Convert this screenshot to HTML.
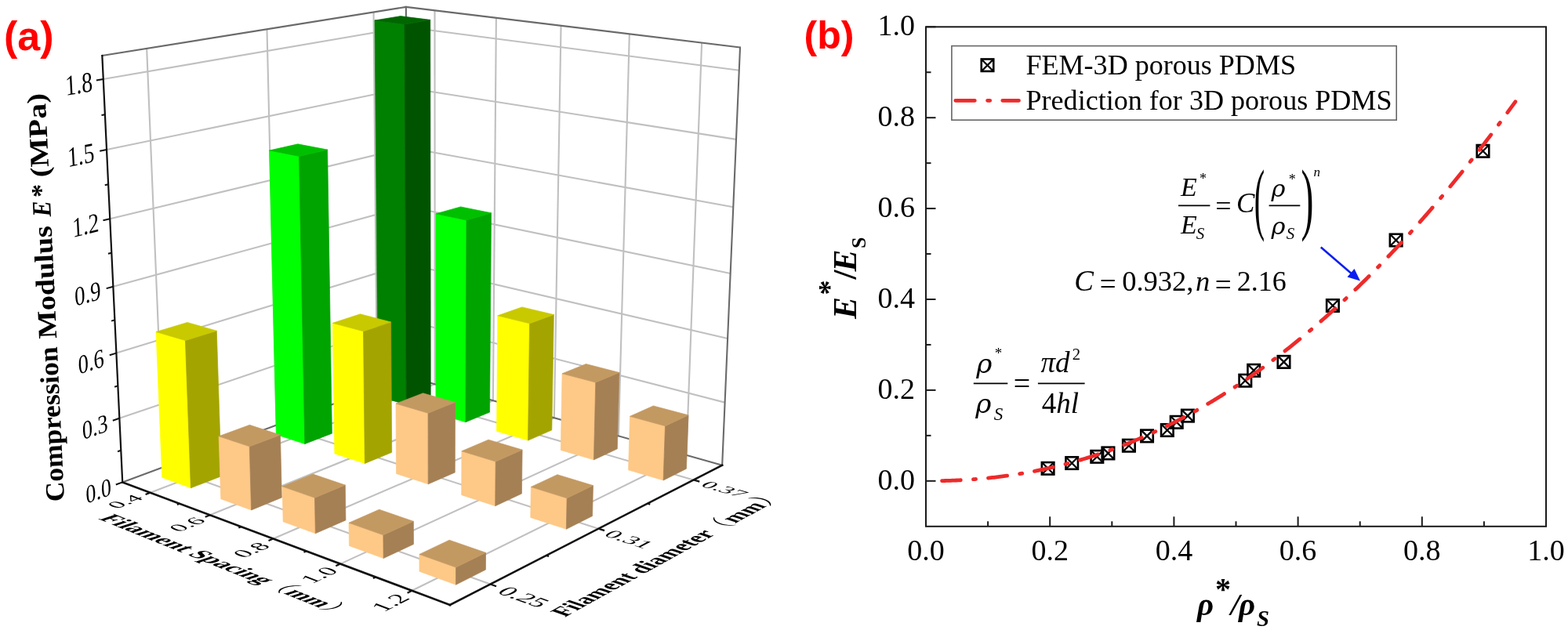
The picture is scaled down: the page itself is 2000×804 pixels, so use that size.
<!DOCTYPE html>
<html><head><meta charset="utf-8"><title>Figure</title>
<style>html,body{margin:0;padding:0;background:#fff;}svg{display:block;}</style>
</head><body>
<svg width="2000" height="804" viewBox="0 0 2000 804">
<rect width="2000" height="804" fill="#fff"/>
<line x1="209.15" y1="595.78" x2="187.15" y2="61.85" stroke="#c0c0c0" stroke-width="2.1"/>
<line x1="352.66" y1="542.53" x2="340.47" y2="37.28" stroke="#c0c0c0" stroke-width="2.1"/>
<line x1="480.87" y1="494.96" x2="476.54" y2="15.48" stroke="#c0c0c0" stroke-width="2.1"/>
<line x1="152.35" y1="533.81" x2="519.63" y2="409.23" stroke="#c0c0c0" stroke-width="2.1"/>
<line x1="148.39" y1="450.61" x2="519.31" y2="336.81" stroke="#c0c0c0" stroke-width="2.1"/>
<line x1="144.36" y1="365.76" x2="518.98" y2="263.16" stroke="#c0c0c0" stroke-width="2.1"/>
<line x1="140.24" y1="279.24" x2="518.65" y2="188.27" stroke="#c0c0c0" stroke-width="2.1"/>
<line x1="136.04" y1="190.97" x2="518.31" y2="112.08" stroke="#c0c0c0" stroke-width="2.1"/>
<line x1="131.76" y1="100.91" x2="517.97" y2="34.58" stroke="#c0c0c0" stroke-width="2.1"/>
<line x1="554.69" y1="490.26" x2="554.49" y2="13.29" stroke="#c0c0c0" stroke-width="2.1"/>
<line x1="628.86" y1="511.18" x2="632.89" y2="22.79" stroke="#c0c0c0" stroke-width="2.1"/>
<line x1="706.84" y1="533.18" x2="715.55" y2="32.80" stroke="#c0c0c0" stroke-width="2.1"/>
<line x1="788.92" y1="556.33" x2="802.83" y2="43.36" stroke="#c0c0c0" stroke-width="2.1"/>
<line x1="875.46" y1="580.74" x2="895.13" y2="54.54" stroke="#c0c0c0" stroke-width="2.1"/>
<line x1="519.63" y1="409.23" x2="924.59" y2="513.62" stroke="#c0c0c0" stroke-width="2.1"/>
<line x1="519.31" y1="336.81" x2="928.09" y2="432.08" stroke="#c0c0c0" stroke-width="2.1"/>
<line x1="518.98" y1="263.16" x2="931.65" y2="348.97" stroke="#c0c0c0" stroke-width="2.1"/>
<line x1="518.65" y1="188.27" x2="935.28" y2="264.25" stroke="#c0c0c0" stroke-width="2.1"/>
<line x1="518.31" y1="112.08" x2="938.98" y2="177.86" stroke="#c0c0c0" stroke-width="2.1"/>
<line x1="517.97" y1="34.58" x2="942.75" y2="89.76" stroke="#c0c0c0" stroke-width="2.1"/>
<line x1="191.66" y1="628.70" x2="554.69" y2="490.26" stroke="#c0c0c0" stroke-width="2.1"/>
<line x1="267.78" y1="657.22" x2="628.86" y2="511.18" stroke="#c0c0c0" stroke-width="2.1"/>
<line x1="348.48" y1="687.46" x2="706.84" y2="533.18" stroke="#c0c0c0" stroke-width="2.1"/>
<line x1="434.21" y1="719.59" x2="788.92" y2="556.33" stroke="#c0c0c0" stroke-width="2.1"/>
<line x1="525.44" y1="753.77" x2="875.46" y2="580.74" stroke="#c0c0c0" stroke-width="2.1"/>
<line x1="209.15" y1="595.78" x2="625.48" y2="745.52" stroke="#c0c0c0" stroke-width="2.1"/>
<line x1="352.66" y1="542.53" x2="763.42" y2="674.67" stroke="#c0c0c0" stroke-width="2.1"/>
<line x1="480.87" y1="494.96" x2="884.60" y2="612.42" stroke="#c0c0c0" stroke-width="2.1"/>
<line x1="130.33" y1="70.96" x2="517.85" y2="8.86" stroke="#6a6a6a" stroke-width="2.1" stroke-linecap="round"/>
<line x1="517.85" y1="8.86" x2="944.01" y2="60.46" stroke="#6a6a6a" stroke-width="2.1" stroke-linecap="round"/>
<line x1="519.95" y1="480.46" x2="517.85" y2="8.86" stroke="#6a6a6a" stroke-width="2.1" stroke-linecap="round"/>
<line x1="921.17" y1="593.64" x2="944.01" y2="60.46" stroke="#6a6a6a" stroke-width="2.1" stroke-linecap="round"/>
<line x1="156.23" y1="615.42" x2="519.95" y2="480.46" stroke="#6a6a6a" stroke-width="2.1" stroke-linecap="round"/>
<line x1="519.95" y1="480.46" x2="921.17" y2="593.64" stroke="#6a6a6a" stroke-width="2.1" stroke-linecap="round"/>
<polygon points="482.21,505.77 518.31,516.40 516.04,30.92 477.96,26.01" fill="#008000" stroke="#008000" stroke-width="0.7" stroke-linejoin="round"/>
<polygon points="518.31,516.40 549.23,504.44 548.73,25.36 516.04,30.92" fill="#005400" stroke="#005400" stroke-width="0.7" stroke-linejoin="round"/>
<polygon points="477.96,26.01 516.04,30.92 548.73,25.36 510.77,20.60" fill="#006600" stroke="#006600" stroke-width="0.7" stroke-linejoin="round"/>
<polygon points="555.94,527.49 593.91,538.67 594.99,281.02 555.87,272.86" fill="#00ff00" stroke="#00ff00" stroke-width="0.7" stroke-linejoin="round"/>
<polygon points="593.91,538.67 624.55,526.09 626.52,271.82 594.99,281.02" fill="#00a400" stroke="#00a400" stroke-width="0.7" stroke-linejoin="round"/>
<polygon points="555.87,272.86 594.99,281.02 626.52,271.82 587.56,263.89" fill="#00bf00" stroke="#00bf00" stroke-width="0.7" stroke-linejoin="round"/>
<polygon points="633.52,550.34 673.52,562.12 675.54,412.87 634.82,402.86" fill="#ffff00" stroke="#ffff00" stroke-width="0.7" stroke-linejoin="round"/>
<polygon points="673.52,562.12 703.80,548.87 706.32,401.60 675.54,412.87" fill="#a4a400" stroke="#a4a400" stroke-width="0.7" stroke-linejoin="round"/>
<polygon points="634.82,402.86 675.54,412.87 706.32,401.60 665.79,391.88" fill="#c9c900" stroke="#c9c900" stroke-width="0.7" stroke-linejoin="round"/>
<polygon points="352.34,554.61 388.80,566.50 381.49,199.41 343.57,192.00" fill="#00ff00" stroke="#00ff00" stroke-width="0.7" stroke-linejoin="round"/>
<polygon points="388.80,566.50 423.38,553.13 417.64,191.05 381.49,199.41" fill="#00a400" stroke="#00a400" stroke-width="0.7" stroke-linejoin="round"/>
<polygon points="343.57,192.00 381.49,199.41 417.64,191.05 379.81,183.86" fill="#00bf00" stroke="#00bf00" stroke-width="0.7" stroke-linejoin="round"/>
<polygon points="715.27,574.42 757.46,586.84 759.78,488.05 717.07,476.81" fill="#fec886" stroke="#fec886" stroke-width="0.7" stroke-linejoin="round"/>
<polygon points="757.46,586.84 787.31,572.87 789.93,475.41 759.78,488.05" fill="#a58054" stroke="#a58054" stroke-width="0.7" stroke-linejoin="round"/>
<polygon points="717.07,476.81 759.78,488.05 789.93,475.41 747.46,464.51" fill="#c39962" stroke="#c39962" stroke-width="0.7" stroke-linejoin="round"/>
<polygon points="426.87,578.91 465.35,591.46 463.50,422.81 424.30,412.32" fill="#ffff00" stroke="#ffff00" stroke-width="0.7" stroke-linejoin="round"/>
<polygon points="465.35,591.46 499.70,577.35 498.56,411.00 463.50,422.81" fill="#a4a400" stroke="#a4a400" stroke-width="0.7" stroke-linejoin="round"/>
<polygon points="424.30,412.32 463.50,422.81 498.56,411.00 459.47,400.83" fill="#c9c900" stroke="#c9c900" stroke-width="0.7" stroke-linejoin="round"/>
<polygon points="801.54,599.82 846.11,612.95 848.47,543.64 803.51,531.37" fill="#fec886" stroke="#fec886" stroke-width="0.7" stroke-linejoin="round"/>
<polygon points="846.11,612.95 875.42,598.19 877.98,529.84 848.47,543.64" fill="#a58054" stroke="#a58054" stroke-width="0.7" stroke-linejoin="round"/>
<polygon points="803.51,531.37 848.47,543.64 877.98,529.84 833.30,517.93" fill="#c39962" stroke="#c39962" stroke-width="0.7" stroke-linejoin="round"/>
<polygon points="505.55,604.57 546.20,617.82 546.07,527.22 504.99,515.09" fill="#fec886" stroke="#fec886" stroke-width="0.7" stroke-linejoin="round"/>
<polygon points="546.20,617.82 580.26,602.92 580.50,513.57 546.07,527.22" fill="#a58054" stroke="#a58054" stroke-width="0.7" stroke-linejoin="round"/>
<polygon points="504.99,515.09 546.07,527.22 580.50,513.57 539.57,501.81" fill="#c39962" stroke="#c39962" stroke-width="0.7" stroke-linejoin="round"/>
<polygon points="206.75,609.35 243.41,622.74 236.40,434.56 199.03,423.54" fill="#ffff00" stroke="#ffff00" stroke-width="0.7" stroke-linejoin="round"/>
<polygon points="243.41,622.74 282.32,607.69 276.27,422.16 236.40,434.56" fill="#a4a400" stroke="#a4a400" stroke-width="0.7" stroke-linejoin="round"/>
<polygon points="199.03,423.54 236.40,434.56 276.27,422.16 238.93,411.48" fill="#c9c900" stroke="#c9c900" stroke-width="0.7" stroke-linejoin="round"/>
<polygon points="588.71,631.68 631.73,645.71 632.23,589.04 588.91,575.72" fill="#fec886" stroke="#fec886" stroke-width="0.7" stroke-linejoin="round"/>
<polygon points="631.73,645.71 665.41,629.94 666.12,574.06 632.23,589.04" fill="#a58054" stroke="#a58054" stroke-width="0.7" stroke-linejoin="round"/>
<polygon points="588.91,575.72 632.23,589.04 666.12,574.06 623.01,561.17" fill="#c39962" stroke="#c39962" stroke-width="0.7" stroke-linejoin="round"/>
<polygon points="281.75,636.74 320.56,650.91 318.27,569.87 279.12,556.73" fill="#fec886" stroke="#fec886" stroke-width="0.7" stroke-linejoin="round"/>
<polygon points="320.56,650.91 359.35,634.98 357.47,555.09 318.27,569.87" fill="#a58054" stroke="#a58054" stroke-width="0.7" stroke-linejoin="round"/>
<polygon points="279.12,556.73 318.27,569.87 357.47,555.09 318.39,542.37" fill="#c39962" stroke="#c39962" stroke-width="0.7" stroke-linejoin="round"/>
<polygon points="676.76,660.40 722.37,675.27 723.14,635.75 677.31,621.39" fill="#fec886" stroke="#fec886" stroke-width="0.7" stroke-linejoin="round"/>
<polygon points="722.37,675.27 755.56,658.55 756.47,619.61 723.14,635.75" fill="#a58054" stroke="#a58054" stroke-width="0.7" stroke-linejoin="round"/>
<polygon points="677.31,621.39 723.14,635.75 756.47,619.61 710.90,605.71" fill="#c39962" stroke="#c39962" stroke-width="0.7" stroke-linejoin="round"/>
<polygon points="361.17,665.75 402.33,680.77 401.48,635.26 360.12,620.82" fill="#fec886" stroke="#fec886" stroke-width="0.7" stroke-linejoin="round"/>
<polygon points="402.33,680.77 440.93,663.88 440.30,619.03 401.48,635.26" fill="#a58054" stroke="#a58054" stroke-width="0.7" stroke-linejoin="round"/>
<polygon points="360.12,620.82 401.48,635.26 440.30,619.03 399.05,605.06" fill="#c39962" stroke="#c39962" stroke-width="0.7" stroke-linejoin="round"/>
<polygon points="445.43,696.52 489.15,712.48 488.90,682.80 445.04,667.23" fill="#fec886" stroke="#fec886" stroke-width="0.7" stroke-linejoin="round"/>
<polygon points="489.15,712.48 527.45,694.54 527.35,665.30 488.90,682.80" fill="#a58054" stroke="#a58054" stroke-width="0.7" stroke-linejoin="round"/>
<polygon points="445.04,667.23 488.90,682.80 527.35,665.30 483.64,650.25" fill="#c39962" stroke="#c39962" stroke-width="0.7" stroke-linejoin="round"/>
<polygon points="534.98,729.22 581.51,746.21 581.57,724.09 534.92,707.40" fill="#fec886" stroke="#fec886" stroke-width="0.7" stroke-linejoin="round"/>
<polygon points="581.51,746.21 619.40,727.12 619.56,705.34 581.57,724.09" fill="#a58054" stroke="#a58054" stroke-width="0.7" stroke-linejoin="round"/>
<polygon points="534.92,707.40 581.57,724.09 619.56,705.34 573.14,689.22" fill="#c39962" stroke="#c39962" stroke-width="0.7" stroke-linejoin="round"/>
<line x1="156.23" y1="615.42" x2="130.33" y2="70.96" stroke="#111" stroke-width="2.2" stroke-linecap="square"/>
<line x1="156.23" y1="615.42" x2="573.99" y2="771.97" stroke="#111" stroke-width="2.6" stroke-linecap="square"/>
<line x1="573.99" y1="771.97" x2="921.17" y2="593.64" stroke="#111" stroke-width="2.6" stroke-linecap="square"/>
<line x1="156.23" y1="615.42" x2="147.79" y2="618.55" stroke="#111" stroke-width="2"/>
<line x1="154.30" y1="574.81" x2="150.06" y2="576.31" stroke="#111" stroke-width="2"/>
<line x1="152.35" y1="533.81" x2="143.83" y2="536.70" stroke="#111" stroke-width="2"/>
<line x1="150.38" y1="492.41" x2="146.10" y2="493.79" stroke="#111" stroke-width="2"/>
<line x1="148.39" y1="450.61" x2="139.79" y2="453.24" stroke="#111" stroke-width="2"/>
<line x1="146.38" y1="408.39" x2="142.06" y2="409.65" stroke="#111" stroke-width="2"/>
<line x1="144.36" y1="365.76" x2="135.68" y2="368.14" stroke="#111" stroke-width="2"/>
<line x1="142.31" y1="322.71" x2="137.95" y2="323.84" stroke="#111" stroke-width="2"/>
<line x1="140.24" y1="279.24" x2="131.49" y2="281.34" stroke="#111" stroke-width="2"/>
<line x1="138.15" y1="235.32" x2="133.76" y2="236.30" stroke="#111" stroke-width="2"/>
<line x1="136.04" y1="190.97" x2="127.23" y2="192.79" stroke="#111" stroke-width="2"/>
<line x1="133.91" y1="146.17" x2="129.49" y2="147.00" stroke="#111" stroke-width="2"/>
<line x1="131.76" y1="100.91" x2="122.89" y2="102.43" stroke="#111" stroke-width="2"/>
<line x1="191.66" y1="628.70" x2="185.59" y2="631.01" stroke="#111" stroke-width="2.2"/>
<line x1="229.17" y1="642.75" x2="225.91" y2="644.03" stroke="#111" stroke-width="2.2"/>
<line x1="267.78" y1="657.22" x2="261.75" y2="659.66" stroke="#111" stroke-width="2.2"/>
<line x1="307.53" y1="672.12" x2="304.30" y2="673.46" stroke="#111" stroke-width="2.2"/>
<line x1="348.48" y1="687.46" x2="342.51" y2="690.03" stroke="#111" stroke-width="2.2"/>
<line x1="390.69" y1="703.28" x2="387.49" y2="704.70" stroke="#111" stroke-width="2.2"/>
<line x1="434.21" y1="719.59" x2="428.30" y2="722.30" stroke="#111" stroke-width="2.2"/>
<line x1="479.10" y1="736.41" x2="475.94" y2="737.92" stroke="#111" stroke-width="2.2"/>
<line x1="525.44" y1="753.77" x2="519.61" y2="756.65" stroke="#111" stroke-width="2.2"/>
<line x1="625.48" y1="745.52" x2="633.01" y2="748.23" stroke="#111" stroke-width="2.2"/>
<line x1="696.75" y1="708.91" x2="700.07" y2="710.03" stroke="#111" stroke-width="2.2"/>
<line x1="763.42" y1="674.67" x2="771.03" y2="677.12" stroke="#111" stroke-width="2.2"/>
<line x1="825.91" y1="642.57" x2="829.26" y2="643.59" stroke="#111" stroke-width="2.2"/>
<line x1="884.60" y1="612.42" x2="892.28" y2="614.65" stroke="#111" stroke-width="2.2"/>
<g font-family="Liberation Serif, Noto Serif CJK SC, serif">
<text transform="matrix(0.64385 -0.23876 0.04153 0.81023 110.07 643.12)" font-size="40" font-weight="normal" font-style="normal" fill="#000">0.0</text>
<text transform="matrix(0.65128 -0.22093 0.04237 0.82610 105.39 561.19)" font-size="40" font-weight="normal" font-style="normal" fill="#000">0.3</text>
<text transform="matrix(0.65909 -0.20238 0.04329 0.84258 100.21 477.65)" font-size="40" font-weight="normal" font-style="normal" fill="#000">0.6</text>
<text transform="matrix(0.66682 -0.18257 0.04416 0.85963 95.63 390.69)" font-size="40" font-weight="normal" font-style="normal" fill="#000">0.9</text>
<text transform="matrix(0.67357 -0.16206 0.04481 0.87625 93.07 303.10)" font-size="40" font-weight="normal" font-style="normal" fill="#000">1.2</text>
<text transform="matrix(0.68247 -0.14082 0.04592 0.89479 86.66 213.32)" font-size="40" font-weight="normal" font-style="normal" fill="#000">1.5</text>
<text transform="matrix(0.68953 -0.11854 0.04660 0.91247 83.99 122.00)" font-size="40" font-weight="normal" font-style="normal" fill="#000">1.8</text>
<text transform="matrix(0.70998 -0.27049 0.53560 0.20559 148.99 649.54)" font-size="40" font-weight="normal" font-style="normal" fill="#000">0.4</text>
<text transform="matrix(0.70880 -0.28671 0.56844 0.21795 228.47 679.31)" font-size="40" font-weight="normal" font-style="normal" fill="#000">0.6</text>
<text transform="matrix(0.70780 -0.30539 0.60487 0.23218 310.88 712.57)" font-size="40" font-weight="normal" font-style="normal" fill="#000">0.8</text>
<text transform="matrix(0.70365 -0.32435 0.64315 0.24663 397.90 745.34)" font-size="40" font-weight="normal" font-style="normal" fill="#000">1.0</text>
<text transform="matrix(0.69848 -0.34574 0.68549 0.26293 489.41 781.20)" font-size="40" font-weight="normal" font-style="normal" fill="#000">1.2</text>
<text transform="matrix(0.78326 0.28197 -0.59902 0.31860 632.39 756.24)" font-size="40" font-weight="normal" font-style="normal" fill="#000">0.25</text>
<text transform="matrix(0.76340 0.24580 -0.52339 0.27782 768.60 683.35)" font-size="40" font-weight="normal" font-style="normal" fill="#000">0.31</text>
<text transform="matrix(0.74356 0.21637 -0.46053 0.24463 892.05 619.93)" font-size="40" font-weight="normal" font-style="normal" fill="#000">0.37</text>
<text transform="matrix(0.69725 0.28025 -0.77500 0.24750 124.52 662.01)" font-size="40" font-weight="bold">Filament Spacing<tspan font-weight="normal" font-family="Noto Serif CJK SC, Noto Sans CJK SC, serif">（</tspan>mm<tspan font-weight="normal" font-family="Noto Serif CJK SC, Noto Sans CJK SC, serif">）</tspan></text>
<text transform="matrix(0.60925 -0.33525 0.76250 0.26250 720.68 787.63)" font-size="40" font-weight="bold">Filament diameter<tspan font-weight="normal" font-family="Noto Serif CJK SC, Noto Sans CJK SC, serif">（</tspan>mm<tspan font-weight="normal" font-family="Noto Serif CJK SC, Noto Sans CJK SC, serif">）</tspan></text>
<g transform="translate(82 639) rotate(-92.7)">
<text x="-0.7" y="0" font-size="34" font-weight="bold" textLength="197.8" lengthAdjust="spacingAndGlyphs">Compression</text>
<text x="207.4" y="0" font-size="34" font-weight="bold" textLength="144.2" lengthAdjust="spacingAndGlyphs">Modulus</text>
<text x="363.2" y="0" font-size="34" font-weight="bold" font-style="italic" textLength="20.5" lengthAdjust="spacingAndGlyphs">E</text>
<text x="388.3" y="0" font-size="34" font-weight="bold" textLength="17.1" lengthAdjust="spacingAndGlyphs">*</text>
<text x="413.7" y="0" font-size="34" font-weight="bold" textLength="107.4" lengthAdjust="spacingAndGlyphs">(MPa)</text>
</g>
<text x="5" y="64" font-family="Liberation Sans, sans-serif" font-weight="bold" font-size="52" fill="#ff0000">(a)</text>
</g>
<g font-family="Liberation Serif, Noto Serif CJK SC, serif" fill="#000">
<rect x="1181.00" y="34.30" width="791.00" height="637.50" fill="none" stroke="#1a1a1a" stroke-width="2"/>
<line x1="1181.00" y1="671.80" x2="1181.00" y2="659.30" stroke="#1a1a1a" stroke-width="2"/>
<line x1="1260.10" y1="671.80" x2="1260.10" y2="665.30" stroke="#1a1a1a" stroke-width="2"/>
<line x1="1339.20" y1="671.80" x2="1339.20" y2="659.30" stroke="#1a1a1a" stroke-width="2"/>
<line x1="1418.30" y1="671.80" x2="1418.30" y2="665.30" stroke="#1a1a1a" stroke-width="2"/>
<line x1="1497.40" y1="671.80" x2="1497.40" y2="659.30" stroke="#1a1a1a" stroke-width="2"/>
<line x1="1576.50" y1="671.80" x2="1576.50" y2="665.30" stroke="#1a1a1a" stroke-width="2"/>
<line x1="1655.60" y1="671.80" x2="1655.60" y2="659.30" stroke="#1a1a1a" stroke-width="2"/>
<line x1="1734.70" y1="671.80" x2="1734.70" y2="665.30" stroke="#1a1a1a" stroke-width="2"/>
<line x1="1813.80" y1="671.80" x2="1813.80" y2="659.30" stroke="#1a1a1a" stroke-width="2"/>
<line x1="1892.90" y1="671.80" x2="1892.90" y2="665.30" stroke="#1a1a1a" stroke-width="2"/>
<line x1="1972.00" y1="671.80" x2="1972.00" y2="659.30" stroke="#1a1a1a" stroke-width="2"/>
<line x1="1181.00" y1="613.80" x2="1193.50" y2="613.80" stroke="#1a1a1a" stroke-width="2"/>
<line x1="1181.00" y1="555.85" x2="1187.50" y2="555.85" stroke="#1a1a1a" stroke-width="2"/>
<line x1="1181.00" y1="497.90" x2="1193.50" y2="497.90" stroke="#1a1a1a" stroke-width="2"/>
<line x1="1181.00" y1="439.95" x2="1187.50" y2="439.95" stroke="#1a1a1a" stroke-width="2"/>
<line x1="1181.00" y1="382.00" x2="1193.50" y2="382.00" stroke="#1a1a1a" stroke-width="2"/>
<line x1="1181.00" y1="324.05" x2="1187.50" y2="324.05" stroke="#1a1a1a" stroke-width="2"/>
<line x1="1181.00" y1="266.10" x2="1193.50" y2="266.10" stroke="#1a1a1a" stroke-width="2"/>
<line x1="1181.00" y1="208.15" x2="1187.50" y2="208.15" stroke="#1a1a1a" stroke-width="2"/>
<line x1="1181.00" y1="150.20" x2="1193.50" y2="150.20" stroke="#1a1a1a" stroke-width="2"/>
<line x1="1181.00" y1="92.25" x2="1187.50" y2="92.25" stroke="#1a1a1a" stroke-width="2"/>
<line x1="1181.00" y1="34.30" x2="1193.50" y2="34.30" stroke="#1a1a1a" stroke-width="2"/>
<text x="1167" y="624.70" font-size="38" text-anchor="end">0.0</text>
<text x="1181.00" y="715" font-size="38" text-anchor="middle">0.0</text>
<text x="1167" y="508.80" font-size="38" text-anchor="end">0.2</text>
<text x="1339.20" y="715" font-size="38" text-anchor="middle">0.2</text>
<text x="1167" y="392.90" font-size="38" text-anchor="end">0.4</text>
<text x="1497.40" y="715" font-size="38" text-anchor="middle">0.4</text>
<text x="1167" y="277.00" font-size="38" text-anchor="end">0.6</text>
<text x="1655.60" y="715" font-size="38" text-anchor="middle">0.6</text>
<text x="1167" y="161.10" font-size="38" text-anchor="end">0.8</text>
<text x="1813.80" y="715" font-size="38" text-anchor="middle">0.8</text>
<text x="1167" y="45.20" font-size="38" text-anchor="end">1.0</text>
<text x="1972.00" y="715" font-size="38" text-anchor="middle">1.0</text>
<rect x="1328.85" y="590.05" width="15.50" height="15.50" fill="none" stroke="#000" stroke-width="2.6"/><path d="M1328.85,590.05 L1344.35,605.55 M1344.35,590.05 L1328.85,605.55" stroke="#000" stroke-width="2.3"/>
<rect x="1359.45" y="583.25" width="15.50" height="15.50" fill="none" stroke="#000" stroke-width="2.6"/><path d="M1359.45,583.25 L1374.95,598.75 M1374.95,583.25 L1359.45,598.75" stroke="#000" stroke-width="2.3"/>
<rect x="1391.55" y="575.05" width="15.50" height="15.50" fill="none" stroke="#000" stroke-width="2.6"/><path d="M1391.55,575.05 L1407.05,590.55 M1407.05,575.05 L1391.55,590.55" stroke="#000" stroke-width="2.3"/>
<rect x="1405.65" y="570.65" width="15.50" height="15.50" fill="none" stroke="#000" stroke-width="2.6"/><path d="M1405.65,570.65 L1421.15,586.15 M1421.15,570.65 L1405.65,586.15" stroke="#000" stroke-width="2.3"/>
<rect x="1432.15" y="560.95" width="15.50" height="15.50" fill="none" stroke="#000" stroke-width="2.6"/><path d="M1432.15,560.95 L1447.65,576.45 M1447.65,560.95 L1432.15,576.45" stroke="#000" stroke-width="2.3"/>
<rect x="1455.25" y="548.65" width="15.50" height="15.50" fill="none" stroke="#000" stroke-width="2.6"/><path d="M1455.25,548.65 L1470.75,564.15 M1470.75,548.65 L1455.25,564.15" stroke="#000" stroke-width="2.3"/>
<rect x="1481.05" y="541.25" width="15.50" height="15.50" fill="none" stroke="#000" stroke-width="2.6"/><path d="M1481.05,541.25 L1496.55,556.75 M1496.55,541.25 L1481.05,556.75" stroke="#000" stroke-width="2.3"/>
<rect x="1492.95" y="531.05" width="15.50" height="15.50" fill="none" stroke="#000" stroke-width="2.6"/><path d="M1492.95,531.05 L1508.45,546.55 M1508.45,531.05 L1492.95,546.55" stroke="#000" stroke-width="2.3"/>
<rect x="1507.15" y="522.85" width="15.50" height="15.50" fill="none" stroke="#000" stroke-width="2.6"/><path d="M1507.15,522.85 L1522.65,538.35 M1522.65,522.85 L1507.15,538.35" stroke="#000" stroke-width="2.3"/>
<rect x="1580.55" y="477.95" width="15.50" height="15.50" fill="none" stroke="#000" stroke-width="2.6"/><path d="M1580.55,477.95 L1596.05,493.45 M1596.05,477.95 L1580.55,493.45" stroke="#000" stroke-width="2.3"/>
<rect x="1591.45" y="465.05" width="15.50" height="15.50" fill="none" stroke="#000" stroke-width="2.6"/><path d="M1591.45,465.05 L1606.95,480.55 M1606.95,465.05 L1591.45,480.55" stroke="#000" stroke-width="2.3"/>
<rect x="1629.75" y="454.15" width="15.50" height="15.50" fill="none" stroke="#000" stroke-width="2.6"/><path d="M1629.75,454.15 L1645.25,469.65 M1645.25,454.15 L1629.75,469.65" stroke="#000" stroke-width="2.3"/>
<rect x="1692.15" y="382.25" width="15.50" height="15.50" fill="none" stroke="#000" stroke-width="2.6"/><path d="M1692.15,382.25 L1707.65,397.75 M1707.65,382.25 L1692.15,397.75" stroke="#000" stroke-width="2.3"/>
<rect x="1772.85" y="298.75" width="15.50" height="15.50" fill="none" stroke="#000" stroke-width="2.6"/><path d="M1772.85,298.75 L1788.35,314.25 M1788.35,298.75 L1772.85,314.25" stroke="#000" stroke-width="2.3"/>
<rect x="1883.75" y="185.05" width="15.50" height="15.50" fill="none" stroke="#000" stroke-width="2.6"/><path d="M1883.75,185.05 L1899.25,200.55 M1899.25,185.05 L1883.75,200.55" stroke="#000" stroke-width="2.3"/>
<path d="M1201.57,613.60 L1203.40,613.56 L1205.23,613.51 L1207.06,613.46 L1208.90,613.41 L1210.73,613.35 L1212.56,613.29 L1214.40,613.22 L1216.23,613.15 L1218.06,613.07 L1219.89,612.99 L1221.73,612.91 L1223.56,612.82 L1225.39,612.73 L1227.22,612.63 L1229.06,612.53 L1230.89,612.42 L1232.72,612.31 L1234.56,612.19 L1236.39,612.07 L1238.22,611.94 L1240.05,611.81 L1241.89,611.68 L1243.72,611.54 L1245.55,611.39 L1247.39,611.24 L1249.22,611.09 L1251.05,610.93 L1252.88,610.76 L1254.72,610.59 L1256.55,610.42 L1258.38,610.24 L1260.21,610.05 L1262.05,609.86 L1263.88,609.67 L1265.71,609.47 L1267.55,609.26 L1269.38,609.05 L1271.21,608.84 L1273.04,608.62 L1274.88,608.39 L1276.71,608.16 L1278.54,607.92 L1280.38,607.68 L1282.21,607.44 L1284.04,607.19 L1285.87,606.93 L1287.71,606.67 L1289.54,606.40 L1291.37,606.13 L1293.21,605.85 L1295.04,605.57 L1296.87,605.28 L1298.70,604.98 L1300.54,604.68 L1302.37,604.38 L1304.20,604.07 L1306.03,603.75 L1307.87,603.43 L1309.70,603.11 L1311.53,602.78 L1313.37,602.44 L1315.20,602.10 L1317.03,601.75 L1318.86,601.39 L1320.70,601.04 L1322.53,600.67 L1324.36,600.30 L1326.20,599.93 L1328.03,599.54 L1329.86,599.16 L1331.69,598.77 L1333.53,598.37 L1335.36,597.96 L1337.19,597.56 L1339.02,597.14 L1340.86,596.72 L1342.69,596.29 L1344.52,595.86 L1346.36,595.43 L1348.19,594.98 L1350.02,594.54 L1351.85,594.08 L1353.69,593.62 L1355.52,593.16 L1357.35,592.68 L1359.19,592.21 L1361.02,591.73 L1362.85,591.24 L1364.68,590.74 L1366.52,590.24 L1368.35,589.74 L1370.18,589.23 L1372.01,588.71 L1373.85,588.19 L1375.68,587.66 L1377.51,587.12 L1379.35,586.58 L1381.18,586.04 L1383.01,585.48 L1384.84,584.93 L1386.68,584.36 L1388.51,583.79 L1390.34,583.22 L1392.18,582.64 L1394.01,582.05 L1395.84,581.46 L1397.67,580.86 L1399.51,580.25 L1401.34,579.64 L1403.17,579.03 L1405.00,578.40 L1406.84,577.77 L1408.67,577.14 L1410.50,576.50 L1412.34,575.85 L1414.17,575.20 L1416.00,574.54 L1417.83,573.88 L1419.67,573.21 L1421.50,572.53 L1423.33,571.85 L1425.17,571.16 L1427.00,570.47 L1428.83,569.77 L1430.66,569.06 L1432.50,568.35 L1434.33,567.63 L1436.16,566.90 L1437.99,566.17 L1439.83,565.44 L1441.66,564.69 L1443.49,563.95 L1445.33,563.19 L1447.16,562.43 L1448.99,561.66 L1450.82,560.89 L1452.66,560.11 L1454.49,559.32 L1456.32,558.53 L1458.16,557.74 L1459.99,556.93 L1461.82,556.12 L1463.65,555.31 L1465.49,554.48 L1467.32,553.65 L1469.15,552.82 L1470.98,551.98 L1472.82,551.13 L1474.65,550.28 L1476.48,549.42 L1478.32,548.55 L1480.15,547.68 L1481.98,546.80 L1483.81,545.92 L1485.65,545.03 L1487.48,544.13 L1489.31,543.23 L1491.15,542.32 L1492.98,541.40 L1494.81,540.48 L1496.64,539.55 L1498.48,538.62 L1500.31,537.68 L1502.14,536.73 L1503.97,535.78 L1505.81,534.82 L1507.64,533.85 L1509.47,532.88 L1511.31,531.90 L1513.14,530.92 L1514.97,529.93 L1516.80,528.93 L1518.64,527.93 L1520.47,526.92 L1522.30,525.90 L1524.14,524.88 L1525.97,523.85 L1527.80,522.81 L1529.63,521.77 L1531.47,520.72 L1533.30,519.67 L1535.13,518.61 L1536.96,517.54 L1538.80,516.47 L1540.63,515.39 L1542.46,514.30 L1544.30,513.21 L1546.13,512.11 L1547.96,511.00 L1549.79,509.89 L1551.63,508.77 L1553.46,507.65 L1555.29,506.51 L1557.13,505.38 L1558.96,504.23 L1560.79,503.08 L1562.62,501.92 L1564.46,500.76 L1566.29,499.59 L1568.12,498.41 L1569.95,497.23 L1571.79,496.04 L1573.62,494.84 L1575.45,493.64 L1577.29,492.43 L1579.12,491.22 L1580.95,489.99 L1582.78,488.76 L1584.62,487.53 L1586.45,486.29 L1588.28,485.04 L1590.12,483.78 L1591.95,482.52 L1593.78,481.26 L1595.61,479.98 L1597.45,478.70 L1599.28,477.41 L1601.11,476.12 L1602.94,474.82 L1604.78,473.51 L1606.61,472.20 L1608.44,470.88 L1610.28,469.55 L1612.11,468.22 L1613.94,466.88 L1615.77,465.53 L1617.61,464.17 L1619.44,462.81 L1621.27,461.45 L1623.11,460.08 L1624.94,458.70 L1626.77,457.31 L1628.60,455.92 L1630.44,454.52 L1632.27,453.11 L1634.10,451.70 L1635.94,450.28 L1637.77,448.85 L1639.60,447.42 L1641.43,445.98 L1643.27,444.53 L1645.10,443.08 L1646.93,441.62 L1648.76,440.15 L1650.60,438.68 L1652.43,437.20 L1654.26,435.71 L1656.10,434.22 L1657.93,432.72 L1659.76,431.22 L1661.59,429.70 L1663.43,428.18 L1665.26,426.66 L1667.09,425.12 L1668.93,423.58 L1670.76,422.04 L1672.59,420.48 L1674.42,418.92 L1676.26,417.36 L1678.09,415.78 L1679.92,414.20 L1681.75,412.61 L1683.59,411.02 L1685.42,409.42 L1687.25,407.81 L1689.09,406.20 L1690.92,404.58 L1692.75,402.95 L1694.58,401.31 L1696.42,399.67 L1698.25,398.03 L1700.08,396.37 L1701.92,394.71 L1703.75,393.04 L1705.58,391.37 L1707.41,389.68 L1709.25,387.99 L1711.08,386.30 L1712.91,384.60 L1714.74,382.89 L1716.58,381.17 L1718.41,379.45 L1720.24,377.72 L1722.08,375.98 L1723.91,374.24 L1725.74,372.49 L1727.57,370.73 L1729.41,368.97 L1731.24,367.20 L1733.07,365.42 L1734.91,363.63 L1736.74,361.84 L1738.57,360.04 L1740.40,358.24 L1742.24,356.43 L1744.07,354.61 L1745.90,352.78 L1747.73,350.95 L1749.57,349.11 L1751.40,347.26 L1753.23,345.41 L1755.07,343.55 L1756.90,341.68 L1758.73,339.81 L1760.56,337.93 L1762.40,336.04 L1764.23,334.15 L1766.06,332.24 L1767.90,330.34 L1769.73,328.42 L1771.56,326.50 L1773.39,324.57 L1775.23,322.63 L1777.06,320.69 L1778.89,318.74 L1780.72,316.78 L1782.56,314.82 L1784.39,312.85 L1786.22,310.87 L1788.06,308.88 L1789.89,306.89 L1791.72,304.89 L1793.55,302.89 L1795.39,300.87 L1797.22,298.85 L1799.05,296.83 L1800.89,294.79 L1802.72,292.75 L1804.55,290.70 L1806.38,288.65 L1808.22,286.59 L1810.05,284.52 L1811.88,282.44 L1813.71,280.36 L1815.55,278.27 L1817.38,276.17 L1819.21,274.07 L1821.05,271.96 L1822.88,269.84 L1824.71,267.72 L1826.54,265.58 L1828.38,263.45 L1830.21,261.30 L1832.04,259.15 L1833.88,256.99 L1835.71,254.82 L1837.54,252.65 L1839.37,250.46 L1841.21,248.28 L1843.04,246.08 L1844.87,243.88 L1846.70,241.67 L1848.54,239.45 L1850.37,237.23 L1852.20,235.00 L1854.04,232.76 L1855.87,230.52 L1857.70,228.26 L1859.53,226.00 L1861.37,223.74 L1863.20,221.46 L1865.03,219.18 L1866.87,216.90 L1868.70,214.60 L1870.53,212.30 L1872.36,209.99 L1874.20,207.68 L1876.03,205.35 L1877.86,203.02 L1879.69,200.69 L1881.53,198.34 L1883.36,195.99 L1885.19,193.63 L1887.03,191.27 L1888.86,188.89 L1890.69,186.51 L1892.52,184.13 L1894.36,181.73 L1896.19,179.33 L1898.02,176.92 L1899.86,174.51 L1901.69,172.08 L1903.52,169.65 L1905.35,167.22 L1907.19,164.77 L1909.02,162.32 L1910.85,159.86 L1912.68,157.40 L1914.52,154.92 L1916.35,152.44 L1918.18,149.96 L1920.02,147.46 L1921.85,144.96 L1923.68,142.45 L1925.51,139.94 L1927.35,137.41 L1929.18,134.88 L1931.01,132.34 L1932.85,129.80" fill="none" stroke="#ee2a2a" stroke-width="4.8" stroke-linecap="round" stroke-dasharray="24.35 16.20 3.08 16.00" stroke-dashoffset="0.59"/>
<rect x="1213.9" y="58.6" width="567.3" height="94.6" fill="#fff" stroke="#666" stroke-width="1.6"/>
<rect x="1251.75" y="75.45" width="15.50" height="15.50" fill="none" stroke="#000" stroke-width="2.6"/><path d="M1251.75,75.45 L1267.25,90.95 M1267.25,75.45 L1251.75,90.95" stroke="#000" stroke-width="2.3"/>
<line x1="1218.8" y1="128.3" x2="1299.5" y2="128.3" stroke="#ee2a2a" stroke-width="4.8" stroke-linecap="round" stroke-dasharray="24.5 16.3 3.1 16.1"/>
<text x="1308.5" y="95" font-size="36" textLength="344.5" lengthAdjust="spacingAndGlyphs">FEM-3D porous PDMS</text>
<text x="1308.5" y="140" font-size="36" textLength="467" lengthAdjust="spacingAndGlyphs">Prediction for 3D porous PDMS</text>
<g transform="translate(1092 407.4) rotate(-90)">
<text x="0.31" y="0.00" font-size="42" font-weight="bold" font-style="italic">E</text>
<text x="31.02" y="-21.53" font-size="38" font-weight="bold">*</text>
<text x="50.92" y="0.00" font-size="43" font-weight="bold">/</text>
<text x="60.91" y="0.00" font-size="42" font-weight="bold" font-style="italic">E</text>
<text x="90.32" y="11.91" font-size="26" font-weight="bold">S</text>
</g>
<text x="1526.92" y="785.24" font-size="41" font-weight="bold" font-style="italic">ρ</text>
<text x="1550.04" y="765.19" font-size="40" font-weight="bold">*</text>
<text x="1569.78" y="785.01" font-size="41" font-weight="bold" font-style="italic">/</text>
<text x="1580.02" y="785.24" font-size="41" font-weight="bold" font-style="italic">ρ</text>
<text x="1602.98" y="799.00" font-size="28.7" font-weight="bold" font-style="italic">S</text>
<text x="1506.10" y="250.06" font-size="34" font-style="italic">E</text>
<text x="1530.12" y="233.79" font-size="18">*</text>
<line x1="1503" y1="262.3" x2="1543.4" y2="262.3" stroke="#000" stroke-width="1.7"/>
<text x="1506.10" y="297.96" font-size="34" font-style="italic">E</text>
<text x="1525.75" y="304.60" font-size="21" font-style="italic">S</text>
<text x="1550.21" y="275.05" font-size="36">=</text>
<text x="1577.05" y="271.47" font-size="35" font-style="italic">C</text>
<text transform="translate(1601.50 286.97) scale(0.397 1)" x="-4.44" y="0" font-size="101.1">(</text>
<text x="1621.57" y="250.86" font-size="30.5" font-style="italic" font-family="DejaVu Serif, serif">ρ</text>
<text x="1643.72" y="234.79" font-size="18">*</text>
<line x1="1618.6" y1="262.3" x2="1658.3" y2="262.3" stroke="#000" stroke-width="1.7"/>
<text x="1621.57" y="298.76" font-size="30.5" font-style="italic" font-family="DejaVu Serif, serif">ρ</text>
<text x="1640.75" y="304.60" font-size="21" font-style="italic">S</text>
<text transform="translate(1661.00 286.97) scale(0.474 1)" x="-3.26" y="0" font-size="101.1">)</text>
<text x="1675.39" y="224.81" font-size="17" font-style="italic">n</text>
<text x="1370.14" y="371.20" font-size="37" font-style="italic">C</text>
<text x="1402.76" y="375.11" font-size="37">=</text>
<text x="1431.21" y="371.20" font-size="36.5">0.932,</text>
<text x="1524.90" y="371.20" font-size="36.5" font-style="italic">n</text>
<text x="1549.86" y="375.71" font-size="37">=</text>
<text x="1577.82" y="371.20" font-size="36">2.16</text>
<text x="1245.21" y="475.74" font-size="34.4" font-style="italic" font-family="DejaVu Serif, serif">ρ</text>
<text x="1268.87" y="457.44" font-size="19">*</text>
<line x1="1241.8" y1="489.4" x2="1285.3" y2="489.4" stroke="#000" stroke-width="1.8"/>
<text x="1244.31" y="527.34" font-size="34.4" font-style="italic" font-family="DejaVu Serif, serif">ρ</text>
<text x="1267.73" y="536.23" font-size="23" font-style="italic">S</text>
<text x="1292.71" y="502.17" font-size="38">=</text>
<text x="1327.40" y="475.00" font-size="37" font-style="italic">πd</text>
<text x="1367.69" y="458.71" font-size="20.7">2</text>
<line x1="1323.9" y1="489.4" x2="1383.6" y2="489.4" stroke="#000" stroke-width="1.8"/>
<text x="1328.78" y="527.00" font-size="37">4<tspan font-style="italic">hl</tspan></text>
<line x1="1684.8" y1="315.6" x2="1726" y2="351" stroke="#0a1ef0" stroke-width="2.6"/>
<polygon points="1735,358.5 1718.5,353.5 1727.5,343" fill="#0a1ef0"/>
<text x="1025.5" y="62" font-family="Liberation Sans, sans-serif" font-weight="bold" font-size="50" fill="#ff0000">(b)</text>
</g>
</svg>
</body></html>
